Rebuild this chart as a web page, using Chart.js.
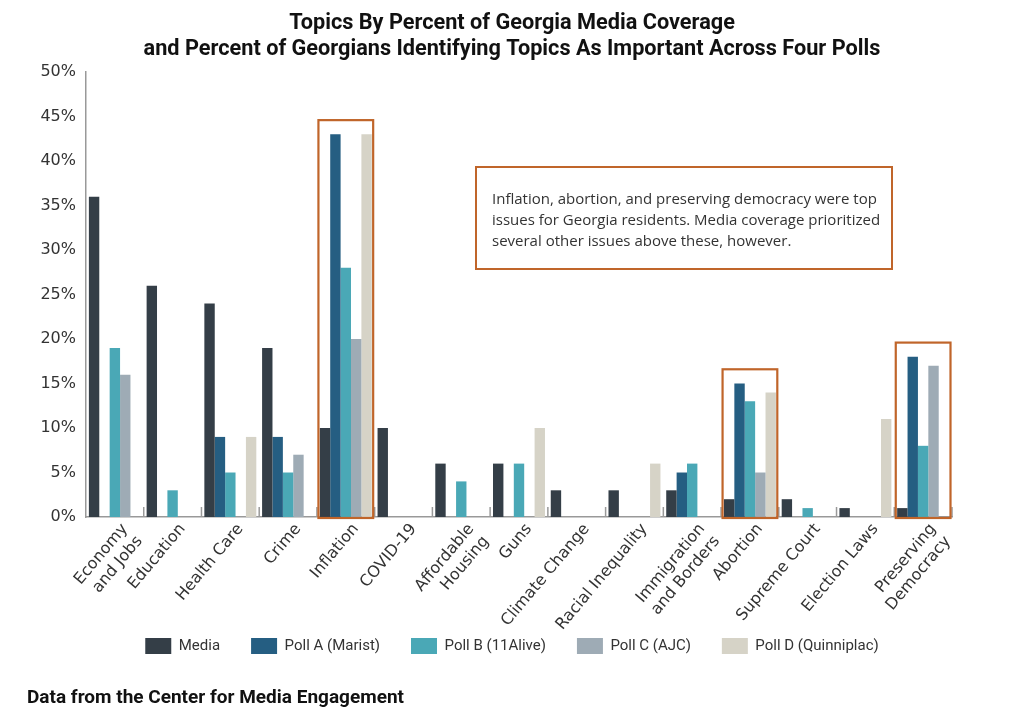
<!DOCTYPE html>
<html>
<head>
<meta charset="utf-8">
<script src="https://cdn.jsdelivr.net/npm/chart.js@4.4.1/dist/chart.umd.min.js"></script>
<style>
html,body{margin:0;padding:0;background:#fff;}
#wrap{position:relative;width:1024px;height:717px;overflow:hidden;}
#note{position:absolute;left:475px;top:166px;width:418px;height:104px;box-sizing:border-box;border:2px solid #c0652a;padding:20px 8px 0 15px;font-family:"Open Sans",sans-serif;font-size:15px;line-height:21px;color:#333;}
#foot{position:absolute;left:27px;top:685px;font-family:Roboto,sans-serif;font-weight:bold;font-size:19px;line-height:24px;color:#111;}
</style>
</head>
<body>
<div id="wrap">
<canvas id="c" width="1024" height="717"></canvas>
<div id="note">Inflation, abortion, and preserving democracy were top issues for Georgia residents. Media coverage prioritized several other issues above these, however.</div>
<div id="foot">Data from the Center for Media Engagement</div>
</div>
<script>
const categories = [["Economy","and Jobs"],"Education","Health Care","Crime","Inflation","COVID-19",["Affordable","Housing"],"Guns","Climate Change","Racial Inequality",["Immigration","and Borders"],"Abortion","Supreme Court","Election Laws",["Preserving","Democracy"]];
const media = [36,26,24,19,10,10,6,6,3,3,3,2,2,1,1];
const pollA = [null,null,9,9,43,null,null,null,null,null,5,15,null,null,18];
const pollB = [19,3,5,5,28,null,4,6,null,null,6,13,1,null,8];
const pollC = [16,null,null,7,20,null,null,null,null,null,null,5,null,null,17];
const pollD = [null,null,9,null,43,null,null,10,null,6,null,14,null,11,null];
const seriesNames = ["Media","Poll A (Marist)","Poll B (11Alive)","Poll C (AJC)","Poll D (Quinniplac)"];
const seriesColors = ["#343e47","#255e82","#4aa8b6","#9eabb5","#d6d3c7"];
const yTickValues = [0,5,10,15,20,25,30,35,40,45,50];
const highlighted = ["Inflation","Abortion","Preserving Democracy"];
const titleLines = ["Topics By Percent of Georgia Media Coverage","and Percent of Georgians Identifying Topics As Important Across Four Polls"];

const seriesValues = [media,pollA,pollB,pollC,pollD];
const catName = c => [].concat(c).join(' ');

const decor = {
  id:'decor',
  afterLayout(chart){
    const lg = chart.legend;
    if (lg) { lg.top -= 25; lg.bottom -= 25; }
  },
  afterDatasetsDraw(chart){
    const {ctx, scales:{x,y}} = chart;
    const half = (x.getPixelForValue(1)-x.getPixelForValue(0))/2;
    const base = y.getPixelForValue(0);
    ctx.save();
    ctx.strokeStyle = '#999';
    ctx.lineWidth = 1.5;
    for(let i=1;i<=categories.length;i++){
      const px = x.getPixelForValue(i-1)+half;
      ctx.beginPath();
      ctx.moveTo(px, base);
      ctx.lineTo(px, base-10);
      ctx.stroke();
    }
    ctx.strokeStyle = '#c0652a';
    ctx.lineWidth = 2.2;
    highlighted.forEach(name=>{
      const i = categories.findIndex(c=>catName(c)===name);
      const mx = Math.max(...seriesValues.map(s=>s[i]||0));
      const cx = x.getPixelForValue(i);
      const top = y.getPixelForValue(mx+1.6);
      ctx.strokeRect(cx-half+1.5, top, 2*half-3, base+1-top);
    });
    ctx.restore();
  }
};

new Chart(document.getElementById('c'), {
  type:'bar',
  data:{
    labels:categories,
    datasets:seriesNames.map((n,k)=>({label:n,data:seriesValues[k],backgroundColor:seriesColors[k],borderWidth:0,categoryPercentage:0.9,barPercentage:1.0}))
  },
  options:{
    responsive:false,
    animation:false,
    layout:{padding:{left:0,right:0,top:0,bottom:28}},
    plugins:{
      title:{display:true,text:titleLines,color:'#111',font:{family:'Roboto',size:21.7,weight:'bold',lineHeight:1.2},padding:{top:11,bottom:9}},
      legend:{position:'bottom',labels:{boxWidth:26,boxHeight:16,padding:31,color:'#333',font:{family:'Roboto',size:15}}},
      tooltip:{enabled:false}
    },
    scales:{
      x:{
        grid:{display:false,drawTicks:false},
        border:{display:true,color:'#999',width:1.5},
        ticks:{autoSkip:false,maxRotation:50,minRotation:50,padding:3,labelOffset:10,color:'#333',font:{family:'DejaVu Sans',size:16}},
        afterFit(s){s.height=115;}
      },
      y:{
        min:0,max:50,
        afterBuildTicks(s){s.ticks=yTickValues.map(v=>({value:v}));},
        grid:{display:false,drawTicks:false},
        border:{display:true,color:'#999',width:1.5},
        ticks:{padding:10,color:'#333',font:{family:'DejaVu Sans',size:16},callback:v=>v+'%'},
        afterFit(s){s.width=86;}
      },
      y2:{
        position:'right',display:true,
        grid:{display:false,drawTicks:false},
        border:{display:false},
        ticks:{display:false},
        afterFit(s){s.width=72;}
      }
    }
  },
  plugins:[decor]
});
</script>
</body>
</html>
